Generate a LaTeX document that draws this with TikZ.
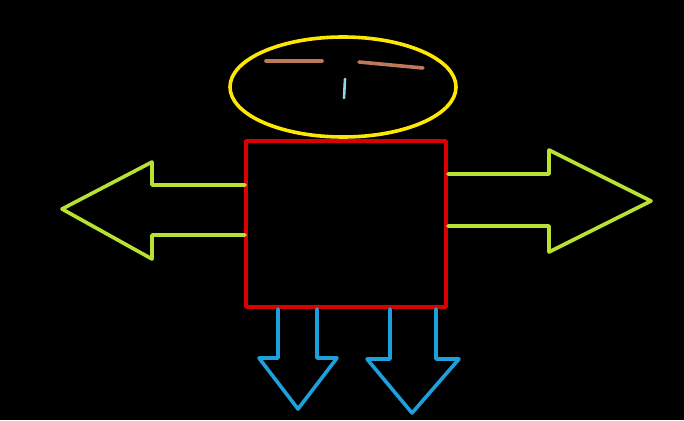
\documentclass[tikz,border=0pt]{standalone}
\begin{document}
\begin{tikzpicture}[x=1pt,y=-1pt,line join=round,line cap=round]
\definecolor{lime}{RGB}{185,225,50}
\definecolor{sky}{RGB}{30,160,220}
\definecolor{brow}{RGB}{190,120,90}
\definecolor{nose}{RGB}{150,210,230}
\tikzset{shp/.style={line width=3.6pt}}
\fill[black] (0,0) rectangle (684,420);
\useasboundingbox (0,0) rectangle (684,420);
\draw[shp,yellow!90!orange] (343,87) ellipse [x radius=113, y radius=50];
\draw[shp,red!85!black] (246,141) rectangle (446,307);
\draw[shp,lime] (245,185) -- (152,185) -- (152,162) -- (62,209) -- (152,259) -- (152,235) -- (245,235);
\draw[shp,lime] (448,174) -- (549,174) -- (549,150) -- (651,201) -- (549,252) -- (549,226) -- (448,226);
\draw[shp,sky] (278,309) -- (278,358) -- (259,358) -- (298,409) -- (337,358) -- (317,358) -- (317,309);
\draw[shp,sky] (390,309) -- (390,359) -- (367,359) -- (412,413) -- (459,359) -- (436,359) -- (436,309);
\draw[shp,brow] (266,61) -- (322,61);
\draw[shp,brow] (359,62) -- (423,68);
\draw[line width=2.6pt,nose] (345,79) -- (344,98);
\end{tikzpicture}
\end{document}
